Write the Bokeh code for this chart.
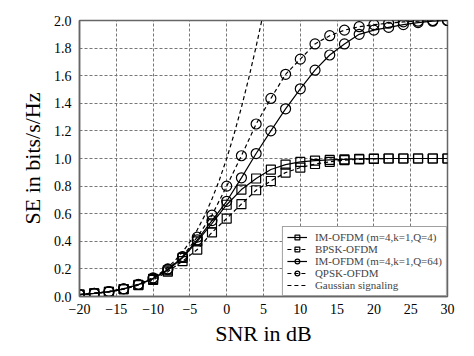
from bokeh.plotting import figure
from bokeh.models import Legend, LegendItem, FixedTicker, Range1d, CustomJSTickFormatter
from bokeh.embed import file_html
from bokeh.resources import INLINE

snr = [-20, -18, -16, -14, -12, -10, -8, -6, -4, -2, 0, 2, 4, 6, 8, 10, 12, 14, 16, 18, 20, 22, 24, 26, 28, 30]

im_q4 = [0.014, 0.022, 0.034, 0.054, 0.085, 0.128, 0.19, 0.28, 0.40, 0.53, 0.665, 0.775, 0.855, 0.92,
         0.956, 0.975, 0.985, 0.99, 0.994, 0.997, 0.999, 1.0, 1.0, 1.0, 1.0, 1.0]
bpsk = [0.014, 0.022, 0.034, 0.053, 0.082, 0.12, 0.18, 0.256, 0.34, 0.465, 0.565, 0.67, 0.77, 0.837,
        0.898, 0.934, 0.96, 0.976, 0.988, 0.994, 0.998, 1.0, 1.0, 1.0, 1.0, 1.0]
im_q64 = [0.014, 0.022, 0.035, 0.056, 0.087, 0.132, 0.196, 0.285, 0.41, 0.55, 0.69, 0.86, 1.036, 1.20,
          1.36, 1.505, 1.64, 1.75, 1.83, 1.90, 1.93, 1.95, 1.97, 1.985, 1.995, 2.0]
qpsk = [0.014, 0.022, 0.035, 0.056, 0.088, 0.135, 0.20, 0.29, 0.43, 0.59, 0.80, 1.02, 1.25, 1.435,
        1.61, 1.72, 1.83, 1.89, 1.93, 1.955, 1.97, 1.98, 1.99, 1.995, 2.0, 2.0]

gauss_snr = [-20, -18, -16, -14, -12, -10, -9, -8, -7, -6, -5, -4, -3, -2, -1, 0, 1, 2, 3, 4, 5]
gauss = [0.014, 0.023, 0.036, 0.056, 0.088, 0.137, 0.171, 0.212, 0.262, 0.323, 0.396, 0.483, 0.586,
         0.706, 0.843, 1.0, 1.176, 1.37, 1.583, 1.812, 2.057]

x_ticks = [-20, -15, -10, -5, 0, 5, 10, 15, 20, 25, 30]
y_ticks = [0.0, 0.2, 0.4, 0.6, 0.8, 1.0, 1.2, 1.4, 1.6, 1.8, 2.0]

labels = ["IM-OFDM (m=4,k=1,Q=4)", "BPSK-OFDM", "IM-OFDM (m=4,k=1,Q=64)", "QPSK-OFDM", "Gaussian signaling"]

FONT = "Liberation Serif, Times New Roman, serif"

p = figure(width=474, height=356, output_backend="svg", toolbar_location=None,
           x_range=Range1d(-20, 30), y_range=Range1d(0, 2.0),
           min_border_left=79, min_border_right=27, min_border_top=20, min_border_bottom=60)
p.background_fill_color = "white"
p.border_fill_color = "white"
p.outline_line_color = "#666666"
p.outline_line_width = 1.5

for ax in (p.xaxis[0], p.yaxis[0]):
    ax.major_label_text_font = FONT
    ax.major_label_text_font_size = "14px"
    ax.major_label_text_color = "black"
    ax.axis_label_text_font = FONT
    ax.axis_label_text_font_style = "normal"
    ax.axis_label_text_font_size = "22px"
    ax.axis_label_text_color = "black"
    ax.axis_line_color = "#666666"
    ax.axis_line_width = 1.5
    ax.major_tick_line_color = None
    ax.minor_tick_line_color = None
    ax.major_tick_out = 0
    ax.major_tick_in = 0
    ax.minor_tick_out = 0
    ax.minor_tick_in = 0

p.xaxis[0].major_label_standoff = 7
p.yaxis[0].major_label_standoff = 8
p.xaxis[0].ticker = FixedTicker(ticks=x_ticks)
p.yaxis[0].ticker = FixedTicker(ticks=y_ticks)
p.yaxis[0].formatter = CustomJSTickFormatter(code="return tick.toFixed(1);")
p.xaxis[0].axis_label = "SNR in dB"
p.yaxis[0].axis_label = "SE in bits/s/Hz"
p.xaxis[0].axis_label_standoff = 4
p.yaxis[0].axis_label_standoff = 6

for g in (p.xgrid[0], p.ygrid[0]):
    g.grid_line_color = "#777777"
    g.grid_line_dash = "3 2"
    g.grid_line_width = 1
p.xgrid[0].ticker = FixedTicker(ticks=x_ticks)
p.ygrid[0].ticker = FixedTicker(ticks=y_ticks)

items = []
l1 = p.line(snr, im_q4, line_color="black", line_width=1.2)
m1 = p.scatter(snr, im_q4, marker="square", size=9, fill_color=None, line_color="black", line_width=1.2)
items.append(LegendItem(label=labels[0], renderers=[l1, m1]))

l2 = p.line(snr, bpsk, line_color="black", line_width=1.2, line_dash="4 3")
m2 = p.scatter(snr, bpsk, marker="square", size=9, fill_color=None, line_color="black", line_width=1.2)
items.append(LegendItem(label=labels[1], renderers=[l2, m2]))

l3 = p.line(snr, im_q64, line_color="black", line_width=1.2)
m3 = p.scatter(snr, im_q64, marker="circle", size=10, fill_color=None, line_color="black", line_width=1.2)
items.append(LegendItem(label=labels[2], renderers=[l3, m3]))

l4 = p.line(snr, qpsk, line_color="black", line_width=1.2, line_dash="4 3")
m4 = p.scatter(snr, qpsk, marker="circle", size=10, fill_color=None, line_color="black", line_width=1.2)
items.append(LegendItem(label=labels[3], renderers=[l4, m4]))

l5 = p.line(gauss_snr, gauss, line_color="black", line_width=1.2, line_dash="4 3")
items.append(LegendItem(label=labels[4], renderers=[l5]))

legend = Legend(items=items, location="bottom_right")
legend.label_text_font = FONT
legend.label_text_font_size = "11px"
legend.label_height = 12
legend.glyph_height = 12
legend.glyph_width = 20
legend.spacing = 0
legend.padding = 4
legend.margin = 0
legend.label_standoff = 8
legend.border_line_color = "#444444"
legend.border_line_width = 1
legend.background_fill_color = "white"
legend.background_fill_alpha = 1.0
p.add_layout(legend)

open("out.html", "w").write(file_html(p, INLINE))
